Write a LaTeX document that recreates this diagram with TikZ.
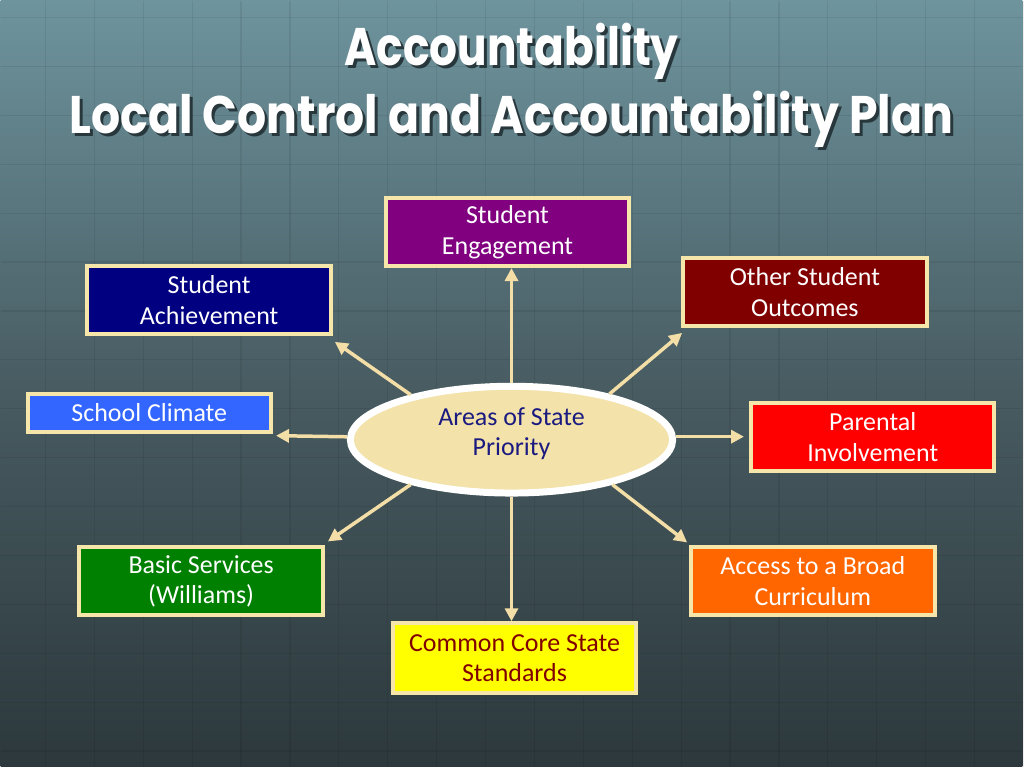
\documentclass[tikz,border=0pt]{standalone}
\usepackage{fontspec}
\usepackage{graphicx}
\setmainfont{Carlito}
\newfontfamily\titlefont{Poppins}
\usetikzlibrary{arrows.meta,shapes.geometric}

\definecolor{bgtop}{RGB}{110,148,158}
\definecolor{bgmid}{RGB}{72,92,98}
\definecolor{bgbot}{RGB}{44,56,60}
\definecolor{shadowcol}{RGB}{40,55,60}
\definecolor{rimcol}{RGB}{246,230,170}
\definecolor{linkcol}{RGB}{242,222,166}
\definecolor{ellfill}{RGB}{243,227,170}
\definecolor{ellnavy}{RGB}{26,26,128}
\definecolor{engfill}{RGB}{128,0,128}
\definecolor{achfill}{RGB}{0,0,128}
\definecolor{othfill}{RGB}{128,0,0}
\definecolor{clifill}{RGB}{51,102,255}
\definecolor{parfill}{RGB}{255,0,0}
\definecolor{basfill}{RGB}{0,128,0}
\definecolor{accfill}{RGB}{255,102,0}
\definecolor{ccsfill}{RGB}{255,255,0}
\definecolor{ccstext}{RGB}{128,0,0}

\newcommand{\shadowed}[2]{%
  \makebox[0pt][l]{\hspace*{3pt}\raisebox{-3pt}{\textcolor{shadowcol}{\resizebox{#1}{\height}{#2}}}}%
  \resizebox{#1}{\height}{#2}}

\tikzset{
  prio/.style={draw=rimcol, line width=4pt, minimum width=244pt, minimum height=68pt,
    text width=236pt, align=flush center, text=white, inner sep=0pt,
    font=\fontsize{26}{31}\selectfont},
  areas/.style={ellipse, draw=white, fill=ellfill, line width=7pt,
    minimum width=323pt, minimum height=107pt, inner sep=0pt},
  link/.style={draw=linkcol, line width=3.5pt, -{Triangle[length=13pt,width=13pt]}},
  titletext/.style={font=\titlefont\bfseries\fontsize{53}{60}\selectfont, inner sep=0pt, text=white}
}

\begin{document}
\begin{tikzpicture}[x=1pt,y=-1pt]
  % background
  \shade[top color=bgtop, bottom color=bgbot, middle color=bgmid] (0,0) rectangle (1024,768);
  \foreach \gx in {0,...,20}
    \draw[black, opacity=0.07, line width=1.2pt] (45+49*\gx,0) -- (45+49*\gx,768);
  \foreach \gy in {0,...,15}
    \draw[black, opacity=0.07, line width=1.2pt] (0,17+49*\gy) -- (1024,17+49*\gy);
  \useasboundingbox (0,0) rectangle (1024,768);

  % title
  \node[titletext, anchor=base] (title1) at (512,65) {\shadowed{335pt}{Accountability}};
  \node[titletext, anchor=base] (title2) at (512,133) {\shadowed{885pt}{Local Control and Accountability Plan}};

  % centre
  \node[areas] (ell) at (512,440) {};
  \node[text=ellnavy, align=flush center, font=\fontsize{26}{31}\selectfont] (elltext) at (512,434) {Areas of State\\Priority};

  % priority areas
  \node[prio, fill=engfill] (eng) at (508,232) {Student\\Engagement};
  \node[prio, fill=achfill] (ach) at (209,300) {Student\\Achievement};
  \node[prio, fill=othfill] (oth) at (806,292) {Other Student\\Outcomes};
  \node[prio, fill=clifill, minimum height=38pt] (cli) at (149,413) {School Climate};
  \node[prio, fill=parfill] (par) at (874,437) {Parental\\Involvement};
  \node[prio, fill=basfill] (bas) at (201,582) {Basic Services\\(Williams)};
  \node[prio, fill=accfill] (acc) at (814,582) {Access to a Broad\\Curriculum};
  \node[prio, fill=ccsfill, text=ccstext, minimum height=70pt] (ccs) at (515,659) {Common Core State\\Standards};

  % arrows
  \draw[link] (ell.north) -- (ell.north |- eng.south);
  \draw[link] (ell.156) -- ([xshift=2pt,yshift=-6pt]ach.south east);
  \draw[link] (ell.25) -- ([xshift=1pt,yshift=-5pt]oth.south west);
  \draw[link] (ell.179) -- ([xshift=3pt,yshift=-2pt]cli.south east);
  \draw[link] (ell.east |- par.west) -- ([xshift=-5pt]par.west);
  \draw[link] (ell.204) -- ([xshift=3pt,yshift=4pt]bas.north east);
  \draw[link] (ell.336) -- ([xshift=-2pt,yshift=3pt]acc.north west);
  \draw[link] (ell.south) -- (ell.south |- ccs.north);
\end{tikzpicture}
\end{document}
